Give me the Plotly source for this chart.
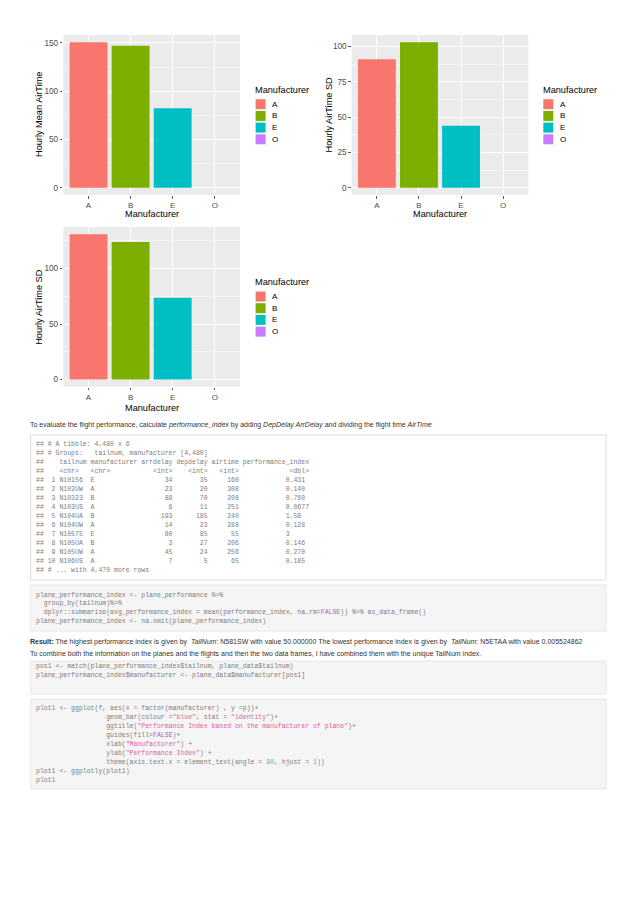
import re
import plotly.graph_objects as go

# ---------------- data ----------------
manufacturers = ["A", "B", "E", "O"]
fill_colors = ["#F8766D", "#7CAE00", "#00BFC4", "#C77CFF"]
hourly_mean_airtime = [150.7, 147.2, 82.4, None]
hourly_airtime_sd_top = [90.9, 103.0, 43.9, None]
hourly_airtime_sd_bottom = [131.0, 124.0, 73.6, None]

y_titles = ["Hourly Mean AirTime", "Hourly AirTime SD", "Hourly AirTime SD"]
x_title = "Manufacturer"
legend_title = "Manufacturer"

prose_texts = [
    "To evaluate the flight performance, calculate <i>performance_index</i> by adding <i>DepDelay ArrDelay</i> and dividing the flight time <i>AirTime</i>",
    "<b>Result:</b> The highest performance index is given by  <i>TailNum</i>: N581SW with value 50.000000 The lowest performance index is given by  <i>TailNum</i>: N5ETAA with value 0.005524862",
    "To combine both the information on the planes and the flights and then the two data frames, I have combined them with the unique TailNum index.",
]

output_lines = [
    "## # A tibble: 4,480 x 6",
    "## # Groups:   tailnum, manufacturer [4,480]",
    "##    tailnum manufacturer arrdelay depdelay airtime performance_index",
    "##    <chr>   <chr>           <int>    <int>   <int>             <dbl>",
    "##  1 N10156  E                  34       35     160            0.431 ",
    "##  2 N102UW  A                  23       20     308            0.140 ",
    "##  3 N10323  B                  88       70     208            0.760 ",
    "##  4 N103US  A                   6       11     251            0.0677",
    "##  5 N104UA  B                 193      185     240            1.58  ",
    "##  6 N104UW  A                  14       23     288            0.128 ",
    "##  7 N10575  E                  80       85      55            3     ",
    "##  8 N105UA  B                   3       27     206            0.146 ",
    "##  9 N105UW  A                  45       24     256            0.270 ",
    "## 10 N106US  A                   7        5      65            0.185 ",
    "## # ... with 4,470 more rows",
]

code_block_2 = [
    "plane_performance_index <- plane_performance %>%",
    "  group_by(tailnum)%>%",
    "  dplyr::summarise(avg_performance_index = mean(performance_index, na.rm=FALSE)) %>% as_data_frame()",
    "plane_performance_index <- na.omit(plane_performance_index)",
]
code_block_3 = [
    "pos1 <- match(plane_performance_index$tailnum, plane_data$tailnum)",
    "plane_performance_index$manufacturer <- plane_data$manufacturer[pos1]",
]
code_block_4 = [
    "plot1 <- ggplot(f, aes(x = factor(manufacturer) , y =p))+",
    "                  geom_bar(colour =\"blue\", stat = \"identity\")+",
    "                  ggtitle(\"Performance Index based on the manufacturer of plane\")+",
    "                  guides(fill=FALSE)+",
    "                  xlab(\"Manufacturer\") +",
    "                  ylab(\"Performance Index\") +",
    "                  theme(axis.text.x = element_text(angle = 90, hjust = 1))",
    "plot1 <- ggplotly(plot1)",
    "plot1",
]

# ---------------- layout helpers ----------------
W, H = 638, 903
FONT = "Liberation Sans, Arial, sans-serif"
MONO = "Liberation Mono, DejaVu Sans Mono, monospace"


def px(x):
    return x / W


def py(y):
    return 1 - y / H


panels = [
    dict(values=hourly_mean_airtime, box=(63.3, 240.0, 35.0, 195.0), dtick=50,
         ytitle_x=39.0, xtitle_y=214.3, legend=(255.0, 90.0)),
    dict(values=hourly_airtime_sd_top, box=(351.7, 528.3, 35.0, 195.0), dtick=25,
         ytitle_x=328.5, xtitle_y=214.3, legend=(542.7, 90.0)),
    dict(values=hourly_airtime_sd_bottom, box=(63.3, 240.0, 227.0, 386.7), dtick=50,
         ytitle_x=39.0, xtitle_y=407.5, legend=(255.0, 282.3)),
]

fig = go.Figure()
annotations = []
shapes = []
layout_axes = {}

for i, p in enumerate(panels):
    n = "" if i == 0 else str(i + 1)
    l, r, t, b = p["box"]
    vals = [v for v in p["values"] if v is not None]
    vmax = max(vals)
    fig.add_trace(go.Bar(
        x=manufacturers, y=p["values"], width=0.9,
        marker=dict(color=fill_colors, line=dict(width=0)),
        xaxis="x" + n, yaxis="y" + n, showlegend=False, hoverinfo="skip",
    ))
    layout_axes["xaxis" + n] = dict(
        domain=[px(l), px(r)], anchor="y" + n, type="category",
        categoryorder="array", categoryarray=manufacturers,
        range=[-0.6, len(manufacturers) - 0.4],
        showgrid=True, gridcolor="white", gridwidth=1,
        ticks="outside", ticklen=2.5, tickwidth=0.8, tickcolor="#333333",
        tickfont=dict(family=FONT, size=8.0, color="#4D4D4D"),
        showline=False, zeroline=False, fixedrange=True,
    )
    layout_axes["yaxis" + n] = dict(
        domain=[py(b), py(t)], anchor="x" + n,
        range=[-0.05 * vmax, 1.05 * vmax], tick0=0, dtick=p["dtick"],
        showgrid=True, gridcolor="white", gridwidth=1,
        minor=dict(tick0=0, dtick=p["dtick"] / 2, showgrid=True,
                   gridcolor="white", gridwidth=0.5),
        ticks="outside", ticklen=2.5, tickwidth=0.8, tickcolor="#333333",
        tickfont=dict(family=FONT, size=8.2, color="#4D4D4D"),
        showline=False, zeroline=False, fixedrange=True,
    )
    # axis titles
    annotations.append(dict(
        text=x_title, x=px((l + r) / 2), y=py(p["xtitle_y"]), xref="paper", yref="paper",
        xanchor="center", yanchor="middle", showarrow=False, borderpad=0, borderwidth=0,
        font=dict(family=FONT, size=9.2, color="black")))
    annotations.append(dict(
        text=y_titles[i], x=px(p["ytitle_x"]), y=py((t + b) / 2), xref="paper", yref="paper",
        xanchor="center", yanchor="middle", textangle=-90, showarrow=False,
        borderpad=0, borderwidth=0, font=dict(family=FONT, size=9.2, color="black")))
    # legend (drawn)
    lx, ly = p["legend"]
    annotations.append(dict(
        text=legend_title, x=px(lx), y=py(ly), xref="paper", yref="paper",
        xanchor="left", yanchor="middle", showarrow=False, borderpad=0, borderwidth=0,
        font=dict(family=FONT, size=9.2, color="black")))
    for j, (name, col) in enumerate(zip(manufacturers, fill_colors)):
        cy = ly + 14.2 + j * 11.7
        shapes.append(dict(type="rect", xref="paper", yref="paper",
                           x0=px(lx + 0.6), x1=px(lx + 10.6), y0=py(cy + 5), y1=py(cy - 5),
                           fillcolor=col, line=dict(width=0)))
        annotations.append(dict(
            text=name, x=px(lx + 16.8), y=py(cy), xref="paper", yref="paper",
            xanchor="left", yanchor="middle", showarrow=False, borderpad=0, borderwidth=0,
            font=dict(family=FONT, size=8.0, color="black")))

# ---------------- text / code blocks ----------------
prose_y = [425.0, 642.3, 654.0]
for txt, y in zip(prose_texts, prose_y):
    annotations.append(dict(
        text=txt, x=px(30.0), y=py(y), xref="paper", yref="paper",
        xanchor="left", yanchor="middle", showarrow=False, borderpad=0, borderwidth=0,
        font=dict(family=FONT, size=7.0, color="#333333")))

CODE_COL = "#7d7d7d"
STR_COL = "#e0619b"
NUM_COL = "#4fb8b8"
CONST_COL = "#b45fae"


def esc(s):
    return s.replace("&", "&amp;").replace("<", "&lt;").replace(">", "&gt;").replace(" ", "\u00a0")


TOKEN = re.compile(r'("[^"]*")|\b(FALSE|TRUE)\b|\b(\d+)\b')


def highlight(line):
    out = []
    pos = 0
    for m in TOKEN.finditer(line):
        out.append(esc(line[pos:m.start()]))
        col = STR_COL if m.group(1) else (CONST_COL if m.group(2) else NUM_COL)
        out.append('<span style="color:%s">%s</span>' % (col, esc(m.group(0))))
        pos = m.end()
    out.append(esc(line[pos:]))
    return "".join(out)


blocks = [
    dict(lines=output_lines, top=435.0, bottom=580.0, first=444.3, step=9.0, fill="white",
         line="#dcdcdc", hl=False),
    dict(lines=code_block_2, top=585.0, bottom=631.0, first=595.0, step=8.9, fill="#f5f5f5",
         line="#e6e6e6", hl=True),
    dict(lines=code_block_3, top=661.0, bottom=694.0, first=666.2, step=9.5, fill="#f5f5f5",
         line="#e6e6e6", hl=True),
    dict(lines=code_block_4, top=699.0, bottom=789.0, first=708.3, step=9.0, fill="#f5f5f5",
         line="#e6e6e6", hl=True),
]
blocks[0]["step"] = (570.3 - 444.3) / (len(output_lines) - 1)

for blk in blocks:
    shapes.append(dict(type="rect", xref="paper", yref="paper", layer="below",
                       x0=px(30.7), x1=px(606.0), y0=py(blk["bottom"]), y1=py(blk["top"]),
                       fillcolor=blk["fill"], line=dict(color=blk["line"], width=1)))
    for k, ln in enumerate(blk["lines"]):
        txt = highlight(ln) if blk["hl"] else esc(ln)
        annotations.append(dict(
            text=txt, x=px(35.7), y=py(blk["first"] + k * blk["step"]), xref="paper", yref="paper",
            xanchor="left", yanchor="middle", showarrow=False, borderpad=0, borderwidth=0,
            font=dict(family=MONO, size=6.5, color=CODE_COL)))

fig.update_layout(
    width=W, height=H, autosize=False,
    margin=dict(l=0, r=0, t=0, b=0, pad=0),
    paper_bgcolor="white", plot_bgcolor="#EBEBEB",
    showlegend=False, bargap=0.1,
    annotations=annotations, shapes=shapes,
    **layout_axes,
)

fig.write_html("out.html", config={"displayModeBar": False, "staticPlot": True},
               post_script="document.body.style.margin='0';document.body.style.overflow='hidden';")
